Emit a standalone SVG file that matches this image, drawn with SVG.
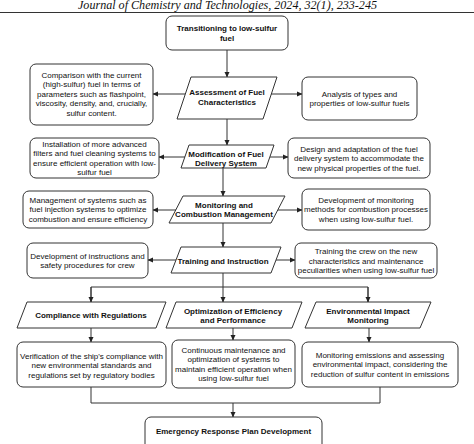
<svg xmlns="http://www.w3.org/2000/svg" width="474" height="444" viewBox="0 0 474 444">
<defs>
<marker id="ah" markerWidth="6" markerHeight="6" refX="5" refY="3" orient="auto" markerUnits="userSpaceOnUse">
<path d="M0,0.5 L5.5,3 L0,5.5 Z" fill="#222"/>
</marker>
<style>
.box{fill:#fff;stroke:#333;stroke-width:1}
.t{font-family:"Liberation Sans",Arial,sans-serif;font-size:8px;fill:#111;text-anchor:middle}
.b{font-weight:bold}
.c{fill:none;stroke:#333;stroke-width:1}
.a{marker-end:url(#ah)}
.hdr{font-family:"Liberation Serif","Times New Roman",serif;font-style:italic;font-size:11.5px;fill:#111}
</style>
</defs>
<rect width="474" height="444" fill="#fff"/>
<text class="hdr" x="78" y="9" textLength="299" lengthAdjust="spacingAndGlyphs">Journal of Chemistry and Technologies, 2024, 32(1), 233-245</text>
<line x1="0" y1="12.5" x2="474" y2="12.5" stroke="#333" stroke-width="1"/>

<g id="connectors">
<line class="c a" x1="227" y1="50" x2="227" y2="77"/>
<line class="c a" x1="185" y1="94" x2="153" y2="94"/>
<line class="c a" x1="271" y1="94" x2="302" y2="94"/>
<line class="c a" x1="227" y1="119" x2="227" y2="145"/>
<line class="c a" x1="185" y1="157" x2="159" y2="157"/>
<line class="c a" x1="270" y1="157" x2="288" y2="157"/>
<line class="c a" x1="223" y1="168" x2="223" y2="196"/>
<line class="c a" x1="176" y1="210" x2="153" y2="210"/>
<line class="c a" x1="278" y1="210" x2="302" y2="210"/>
<line class="c a" x1="223" y1="223" x2="223" y2="247"/>
<line class="c a" x1="176" y1="260" x2="148" y2="260"/>
<line class="c a" x1="276" y1="260" x2="295" y2="260"/>
<polyline class="c" points="223,273 223,287"/>
<polyline class="c" points="91,302 91,287 368,287 368,302"/>
<line class="c a" x1="91" y1="287" x2="91" y2="302"/>
<line class="c a" x1="223" y1="287" x2="223" y2="302"/>
<line class="c a" x1="368" y1="287" x2="368" y2="302"/>
<line class="c a" x1="91" y1="328" x2="91" y2="342"/>
<line class="c a" x1="233" y1="328" x2="233" y2="340"/>
<line class="c a" x1="369" y1="328" x2="369" y2="342"/>
<polyline class="c" points="91,387 91,403 380,403 380,387"/>
<line class="c a" x1="233" y1="403" x2="233" y2="417"/>
</g>

<g id="n-start">
<rect class="box" x="166" y="16" width="122" height="34" rx="6"/>
<text class="t b" x="227"><tspan x="227" y="31">Transitioning to low-sulfur</tspan><tspan x="227" y="41">fuel</tspan></text>
</g>

<g id="n-assess">
<polygon class="box" points="191,77 277,77 263,119 177,119"/>
<text class="t b"><tspan x="227" y="95">Assessment of Fuel</tspan><tspan x="227" y="105">Characteristics</tspan></text>
</g>
<g id="n-compare">
<rect class="box" x="30" y="64" width="123" height="61" rx="6"/>
<text class="t"><tspan x="91.5" y="78">Comparison with the current</tspan><tspan x="91.5" y="87.4">(high-sulfur) fuel in terms of</tspan><tspan x="91.5" y="96.8">parameters such as flashpoint,</tspan><tspan x="91.5" y="106.2">viscosity, density, and, crucially,</tspan><tspan x="91.5" y="115.6">sulfur content.</tspan></text>
</g>
<g id="n-analysis">
<rect class="box" x="302" y="77" width="115" height="43" rx="6"/>
<text class="t"><tspan x="359.5" y="97">Analysis of types and</tspan><tspan x="359.5" y="106.4">properties of low-sulfur fuels</tspan></text>
</g>

<g id="n-modify">
<polygon class="box" points="189,145 274,145 266,168 181,168"/>
<text class="t b"><tspan x="226" y="157">Modification of Fuel</tspan><tspan x="226" y="166">Delivery System</tspan></text>
</g>
<g id="n-install">
<rect class="box" x="30" y="138" width="129" height="40" rx="6"/>
<text class="t"><tspan x="94.5" y="147">Installation of more advanced</tspan><tspan x="94.5" y="156.4">filters and fuel cleaning systems to</tspan><tspan x="94.5" y="165.8">ensure efficient operation with low-</tspan><tspan x="94.5" y="175.2">sulfur fuel</tspan></text>
</g>
<g id="n-design">
<rect class="box" x="288" y="138" width="142" height="40" rx="6"/>
<text class="t"><tspan x="359" y="152">Design and adaptation of the fuel</tspan><tspan x="359" y="161.4">delivery system to accommodate the</tspan><tspan x="359" y="170.8">new physical properties of the fuel.</tspan></text>
</g>

<g id="n-monitor">
<polygon class="box" points="183,196 285,196 271,223 169,223"/>
<text class="t b"><tspan x="224" y="208">Monitoring and</tspan><tspan x="224" y="217.4">Combustion Management</tspan></text>
</g>
<g id="n-manage">
<rect class="box" x="23" y="191" width="130" height="37" rx="6"/>
<text class="t"><tspan x="88" y="203">Management of systems such as</tspan><tspan x="88" y="212.4">fuel injection systems to optimize</tspan><tspan x="88" y="221.8">combustion and ensure efficiency</tspan></text>
</g>
<g id="n-methods">
<rect class="box" x="302" y="189" width="128" height="41" rx="6"/>
<text class="t"><tspan x="366" y="203">Development of monitoring</tspan><tspan x="366" y="212.4">methods for combustion processes</tspan><tspan x="366" y="221.8">when using low-sulfur fuel.</tspan></text>
</g>

<g id="n-training">
<polygon class="box" points="181,247 281,247 271,273 171,273"/>
<text class="t b"><tspan x="223" y="263.5">Training and Instruction</tspan></text>
</g>
<g id="n-instructions">
<rect class="box" x="27" y="243" width="121" height="35" rx="6"/>
<text class="t"><tspan x="87.5" y="259">Development of instructions and</tspan><tspan x="87.5" y="268">safety procedures for crew</tspan></text>
</g>
<g id="n-crew">
<rect class="box" x="295" y="243" width="142" height="35" rx="6"/>
<text class="t"><tspan x="366" y="254">Training the crew on the new</tspan><tspan x="366" y="263.6">characteristics and maintenance</tspan><tspan x="366" y="273.2">peculiarities when using low-sulfur fuel</tspan></text>
</g>

<g id="n-compliance">
<polygon class="box" points="27,302 166,302 156,328 17,328"/>
<text class="t b"><tspan x="91" y="318">Compliance with Regulations</tspan></text>
</g>
<g id="n-optimization">
<polygon class="box" points="176,302 302,302 292,328 166,328"/>
<text class="t b"><tspan x="233" y="314">Optimization of Efficiency</tspan><tspan x="233" y="323">and Performance</tspan></text>
</g>
<g id="n-environment">
<polygon class="box" points="316,302 431,302 420,328 305,328"/>
<text class="t b"><tspan x="368" y="314">Environmental Impact</tspan><tspan x="368" y="323">Monitoring</tspan></text>
</g>

<g id="n-verification">
<rect class="box" x="17" y="342" width="149" height="45" rx="6"/>
<text class="t"><tspan x="91.5" y="359">Verification of the ship's compliance with</tspan><tspan x="91.5" y="368.4">new environmental standards and</tspan><tspan x="91.5" y="377.8">regulations set by regulatory bodies</tspan></text>
</g>
<g id="n-maintenance">
<rect class="box" x="172" y="340" width="123" height="48" rx="6"/>
<text class="t"><tspan x="233.5" y="353">Continuous maintenance and</tspan><tspan x="233.5" y="362.4">optimization of systems to</tspan><tspan x="233.5" y="371.8">maintain efficient operation when</tspan><tspan x="233.5" y="381.2">using low-sulfur fuel</tspan></text>
</g>
<g id="n-emissions">
<rect class="box" x="302" y="342" width="156" height="45" rx="6"/>
<text class="t"><tspan x="380" y="358">Monitoring emissions and assessing</tspan><tspan x="380" y="367.4">environmental impact, considering the</tspan><tspan x="380" y="376.8">reduction of sulfur content in emissions</tspan></text>
</g>

<g id="n-emergency">
<rect class="box" x="145" y="417" width="177" height="40" rx="6"/>
<text class="t b"><tspan x="233.5" y="434">Emergency Response Plan Development</tspan></text>
</g>
</svg>
